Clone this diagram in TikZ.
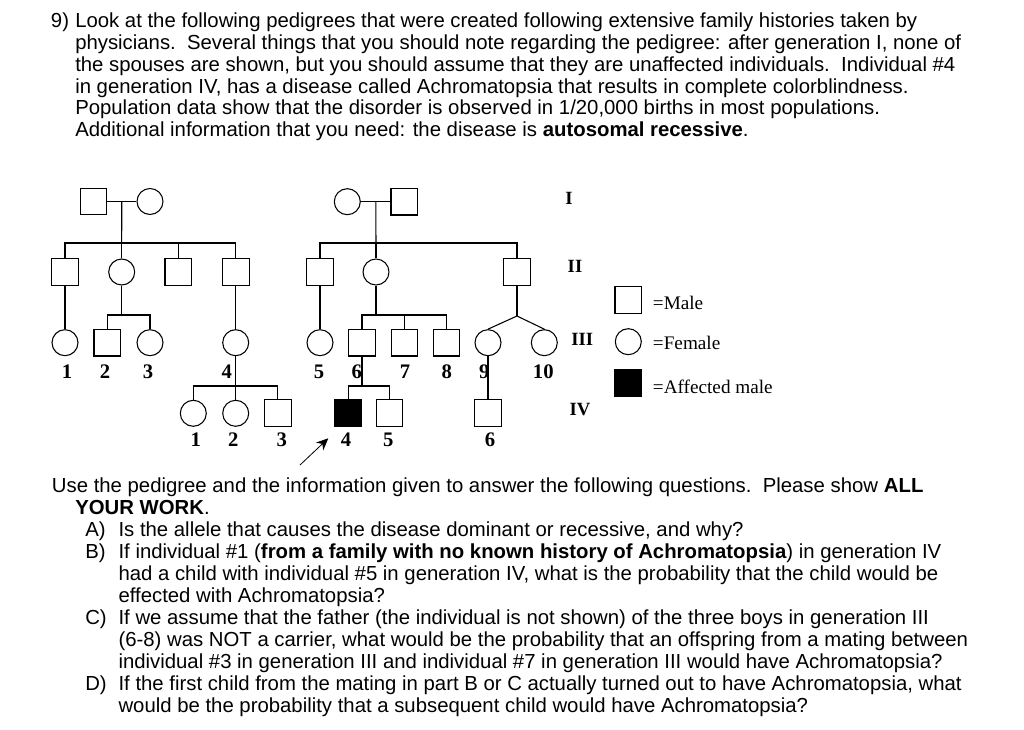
\documentclass[tikz,border=0pt]{standalone}
\usepackage{fontspec}
\setmainfont{Liberation Sans}
\newfontfamily\pedserif{Liberation Serif}
\usetikzlibrary{arrows.meta, positioning, calc}

\begin{document}
\begin{tikzpicture}[x=0.75pt, y=-0.75pt,
	malebox/.style={rectangle, draw, line width=.8pt, minimum size=20pt, inner sep=0pt},
	femalecirc/.style={circle, draw, line width=.8pt, minimum size=19.5pt, inner sep=0pt},
	affectedbox/.style={malebox, fill=black},
	idlabel/.style={font=\pedserif\bfseries\fontsize{15.5}{15.5}\selectfont, inner sep=0pt},
	genlabel/.style={font=\pedserif\bfseries\fontsize{14}{14}\selectfont, inner sep=0pt},
	legendtext/.style={anchor=base west, inner sep=0pt, font=\pedserif\fontsize{14.4}{14.4}\selectfont},
	textline/.style={anchor=base west, inner sep=0pt, font=\fontsize{15.25}{16}\selectfont},
	link/.style={line width=.8pt},
	probarrow/.style={-{Stealth[length=9pt, width=8pt]}, line width=.6pt}
	]
	\useasboundingbox (0,0) rectangle (1024,730);

	% question text
	\node[textline] (q-num) at (50.7,27.7) {9)};
	\node[textline] (intro1) at (75,27.7) {Look at the following pedigrees that were created following extensive family histories taken by};
	\node[textline] (intro2) at (75,49.5) {physicians.\ \ Several things that you should note regarding the pedigree: after generation I, none of};
	\node[textline] (intro3) at (75,71.3) {the spouses are shown, but you should assume that they are unaffected individuals.\ \ Individual \#4};
	\node[textline] (intro4) at (75,93.1) {in generation IV, has a disease called Achromatopsia that results in complete colorblindness.};
	\node[textline] (intro5) at (75,114.9) {Population data show that the disorder is observed in 1/20,000 births in most populations.};
	\node[textline] (intro6) at (75,136.7) {Additional information that you need: the disease is \textbf{autosomal recessive}.};

	% left pedigree
	\node[malebox] (L1m) at (93.5,201.5) {};
	\node[femalecirc] (L1f) at (150,201.5) {};
	\node[malebox] (L2a) at (65,272) {};
	\node[femalecirc] (L2b) at (121.7,272) {};
	\node[malebox] (L2c) at (178.3,272) {};
	\node[malebox] (L2d) at (235.7,272) {};
	\node[femalecirc] (L3a) at (65,342.7) {};
	\node[malebox] (L3b) at (107.3,342.7) {};
	\node[femalecirc] (L3c) at (150,342.7) {};
	\node[femalecirc] (L3d) at (235.7,342.7) {};
	\node[femalecirc] (L4a) at (193.3,413.3) {};
	\node[femalecirc] (L4b) at (235.7,413.3) {};
	\node[malebox] (L4c) at (277.7,413.3) {};

	\coordinate (L1c) at ($(L1m)!.5!(L1f)$);
	\coordinate (L1sib) at (121.7,243);
	\coordinate (L2bsib) at (121.7,315);
	\coordinate (L3dsib) at (235.7,386);
	\draw[link] (L1m) -- (L1f);
	\draw[link] (L1c) -- (L1sib);
	\draw[link] (L2a) -- (L2a |- L1sib) -- (L2d |- L1sib) -- (L2d);
	\draw[link] (L2b) -- (L2b |- L1sib);
	\draw[link] (L2c) -- (L2c |- L1sib);
	\draw[link] (L2a) -- (L3a);
	\draw[link] (L2b) -- (L2bsib);
	\draw[link] (L3b) -- (L3b |- L2bsib) -- (L3c |- L2bsib) -- (L3c);
	\draw[link] (L2d) -- (L3d);
	\draw[link] (L3d) -- (L3dsib);
	\draw[link] (L4a) -- (L4a |- L3dsib) -- (L4c |- L3dsib) -- (L4c);
	\draw[link] (L4b) -- (L4b |- L3dsib);

	\node[idlabel] (L3a-id) at (67,371.7) {1};
	\node[idlabel] (L3b-id) at (105,371.7) {2};
	\node[idlabel] (L3c-id) at (148,371.7) {3};
	\node[idlabel] (L3d-id) at (226.7,371.7) {4};
	\node[idlabel] (L4a-id) at (195.7,440) {1};
	\node[idlabel] (L4b-id) at (233.3,440) {2};
	\node[idlabel] (L4c-id) at (281.7,440) {3};

	% right pedigree
	\node[femalecirc] (R1f) at (347.3,201.7) {};
	\node[malebox] (R1m) at (404.3,201.7) {};
	\node[malebox] (R2a) at (320,272) {};
	\node[femalecirc] (R2b) at (376,272) {};
	\node[malebox] (R2c) at (517,272) {};
	\node[femalecirc] (R3a) at (320,342.7) {};
	\node[malebox] (R3b) at (362,342.7) {};
	\node[malebox] (R3c) at (404.5,342.7) {};
	\node[malebox] (R3d) at (446.5,342.7) {};
	\node[femalecirc] (R3e) at (488,342.7) {};
	\node[femalecirc] (R3f) at (544.3,342.7) {};
	\node[affectedbox] (R4a) at (348.3,413.3) {};
	\node[malebox] (R4b) at (389.5,413.3) {};
	\node[malebox] (R4c) at (488,413.3) {};

	\coordinate (R1c) at ($(R1f)!.5!(R1m)$);
	\coordinate (R1sib) at (376,243);
	\coordinate (R2bsib) at (376,315);
	\coordinate (R3bsib) at (362,386);
	\coordinate (R2ctwin) at (517,316);
	\draw[link] (R1f) -- (R1m);
	\draw[link] (R1c) -- (R1sib);
	\draw[link] (R2a) -- (R2a |- R1sib) -- (R2c |- R1sib) -- (R2c);
	\draw[link] (R2b) -- (R2b |- R1sib);
	\draw[link] (R2a) -- (R3a);
	\draw[link] (R2b) -- (R2bsib);
	\draw[link] (R3b) -- (R3b |- R2bsib) -- (R3d |- R2bsib) -- (R3d);
	\draw[link] (R3c) -- (R3c |- R2bsib);
	\draw[link] (R2c) -- (R2ctwin);
	\draw[link] (R3e.north) -- (R2ctwin) -- (R3f.north);
	\draw[link] (R3b) -- (R3bsib);
	\draw[link] (R4a) -- (R4a |- R3bsib) -- (R4b |- R3bsib) -- (R4b);
	\draw[link] (R3e) -- (R4c);

	\node[idlabel] (R3a-id) at (319,371.7) {5};
	\node[idlabel] (R3b-id) at (356.7,371.7) {6};
	\node[idlabel] (R3c-id) at (405,371.7) {7};
	\node[idlabel] (R3d-id) at (446.7,371.7) {8};
	\node[idlabel] (R3e-id) at (484.3,371.7) {9};
	\node[idlabel] (R3f-id) at (543.3,371.7) {10};
	\node[idlabel] (R4a-id) at (346,440) {4};
	\node[idlabel] (R4b-id) at (388.3,440) {5};
	\node[idlabel] (R4c-id) at (490,440) {6};

	\coordinate (proband-tail) at (300,465);
	\coordinate (proband-tip) at (328.3,438.3);
	\draw[probarrow] (proband-tail) -- (proband-tip);

	% generations
	\node[genlabel] (gen1) at (569,198) {I};
	\node[genlabel] (gen2) at (575,266) {II};
	\node[genlabel] (gen3) at (582.3,339.3) {III};
	\node[genlabel] (gen4) at (580,410) {IV};

	% legend
	\node[malebox] (key-male) at (628.3,300) {};
	\node[femalecirc] (key-female) at (628.3,341.7) {};
	\node[affectedbox] (key-affected) at (628.3,383.3) {};
	\node[legendtext] (key-male-txt) at (652.7,309.3) {=Male};
	\node[legendtext] (key-female-txt) at (652.7,350) {=Female};
	\node[legendtext] (key-affected-txt) at (652.7,393.3) {=Affected male};

	% questions
	\node[textline] (ask1) at (51.7,492.5) {Use the pedigree and the information given to answer the following questions.\ \ Please show \textbf{ALL}};
	\node[textline] (ask2) at (75,514.5) {\textbf{YOUR WORK}.};
	\node[textline] (qa) at (85,536.5) {A)};
	\node[textline] (qa1) at (118.3,536.5) {Is the allele that causes the disease dominant or recessive, and why?};
	\node[textline] (qb) at (85,558.5) {B)};
	\node[textline] (qb1) at (118.3,558.5) {If individual \#1 (\textbf{from a family with no known history of Achromatopsia}) in generation IV};
	\node[textline] (qb2) at (118.3,580.5) {had a child with individual \#5 in generation IV, what is the probability that the child would be};
	\node[textline] (qb3) at (118.3,602.5) {effected with Achromatopsia?};
	\node[textline] (qc) at (85,624.5) {C)};
	\node[textline] (qc1) at (118.3,624.5) {If we assume that the father (the individual is not shown) of the three boys in generation III};
	\node[textline] (qc2) at (118.3,646.5) {(6-8) was NOT a carrier, what would be the probability that an offspring from a mating between};
	\node[textline] (qc3) at (118.3,668.5) {individual \#3 in generation III and individual \#7 in generation III would have Achromatopsia?};
	\node[textline] (qd) at (85,690.5) {D)};
	\node[textline] (qd1) at (118.3,690.5) {If the first child from the mating in part B or C actually turned out to have Achromatopsia, what};
	\node[textline] (qd2) at (118.3,712.5) {would be the probability that a subsequent child would have Achromatopsia?};
\end{tikzpicture}
\end{document}
